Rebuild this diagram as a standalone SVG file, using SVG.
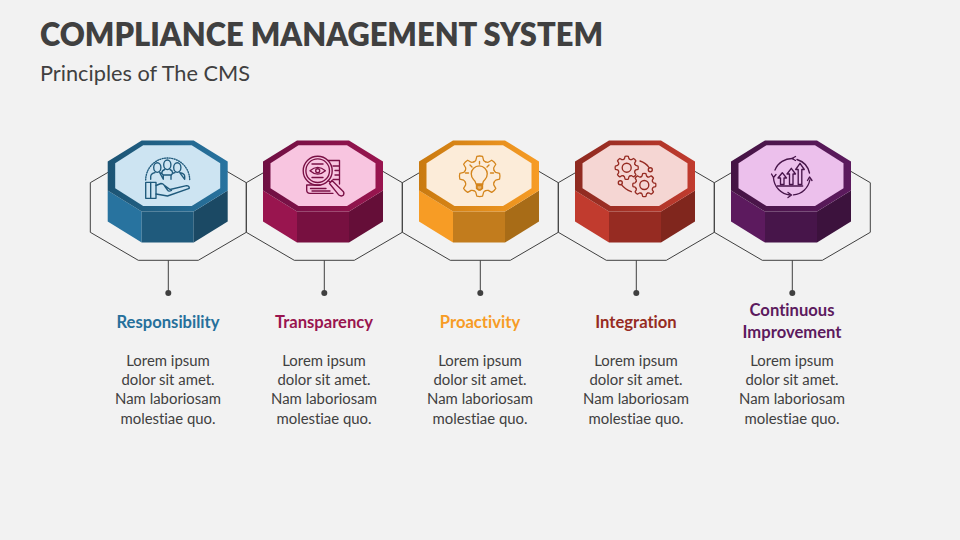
<svg xmlns="http://www.w3.org/2000/svg" width="960" height="540" viewBox="0 0 960 540">
<style>
text{font-family:"Lato","Carlito","Liberation Sans",sans-serif;fill:#404040;text-anchor:middle;font-variant-ligatures:none}
.title{font-size:32.5px;font-weight:800;text-anchor:start}
.sub{font-size:21.5px;text-anchor:start}
.lab{font-size:16.6px;font-weight:700}
.body{font-size:14.9px}
.hex{fill:none;stroke:#404040;stroke-width:1}
.stem{fill:none;stroke:#404040;stroke-width:1}
.dot{fill:#404040}
.ic{fill:none;stroke-width:1.35;stroke-linecap:round;stroke-linejoin:round}
</style>
<defs>
<linearGradient id="gb"><stop offset="0" stop-color="#1c5474"/><stop offset="1" stop-color="#28739f"/></linearGradient>
<linearGradient id="gm"><stop offset="0" stop-color="#6f0f43"/><stop offset="1" stop-color="#99154f"/></linearGradient>
<linearGradient id="go"><stop offset="0" stop-color="#c97a10"/><stop offset="1" stop-color="#f79c25"/></linearGradient>
<linearGradient id="gr"><stop offset="0" stop-color="#8e2a20"/><stop offset="1" stop-color="#c13b2e"/></linearGradient>
<linearGradient id="gp"><stop offset="0" stop-color="#451444"/><stop offset="1" stop-color="#5c1a5e"/></linearGradient>
<polygon id="rim" points="-60,-15 -26,-36 26,-36 60,-15 60,14 26,35 -26,35 -60,14"/>
<polygon id="face" points="-52.5,-13.3 -24.5,-31.3 24,-31.3 52.5,-13.3 52.5,11.7 24,29.5 -24.5,29.5 -52.5,11.7"/>
<polygon id="sl" points="-60,14 -26,35 -26,66 -60,45"/>
<polygon id="sm" points="-26,35 26,35 26,66 -26,66"/>
<polygon id="sr" points="26,35 60,14 60,45 26,66"/>
<path id="tooth" d="M-2.9 -7Q-2.2 -7.3 -1.9 -7.8L-1.4 -9.7Q0 -10.1 1.4 -9.700L1.9 -7.8Q2.2 -7.3 2.9 -7"/>
<g id="gear">
<use href="#tooth"/>
<use href="#tooth" transform="rotate(45)"/>
<use href="#tooth" transform="rotate(90)"/>
<use href="#tooth" transform="rotate(135)"/>
<use href="#tooth" transform="rotate(180)"/>
<use href="#tooth" transform="rotate(225)"/>
<use href="#tooth" transform="rotate(270)"/>
<use href="#tooth" transform="rotate(315)"/>
</g>
</defs>
<rect width="960" height="540" fill="#f2f2f2"/>
<text class="title" x="40" y="46" textLength="563" lengthAdjust="spacingAndGlyphs">COMPLIANCE MANAGEMENT SYSTEM</text>
<text class="sub" x="40" y="81" textLength="210" lengthAdjust="spacingAndGlyphs">Principles of The CMS</text>
<g id="connectors">
<polygon class="hex" points="90.3,182.7 138.3,154.7 198.3,154.7 246.3,182.7 246.3,232.3 198.3,260.3 138.3,260.3 90.3,232.3"/>
<polygon class="hex" points="246.3,182.7 294.3,154.7 354.3,154.7 402.3,182.7 402.3,232.3 354.3,260.3 294.3,260.3 246.3,232.3"/>
<polygon class="hex" points="402.3,182.7 450.3,154.7 510.3,154.7 558.3,182.7 558.3,232.3 510.3,260.3 450.3,260.3 402.3,232.3"/>
<polygon class="hex" points="558.3,182.7 606.3,154.7 666.3,154.7 714.3,182.7 714.3,232.3 666.3,260.3 606.3,260.3 558.3,232.3"/>
<polygon class="hex" points="714.3,182.7 762.3,154.7 822.3,154.7 870.3,182.7 870.3,232.3 822.3,260.3 762.3,260.3 714.3,232.3"/>
<path class="stem" d="M168.3 260.3V293M324.3 260.3V293M480.3 260.3V293M636.3 260.3V293M792.3 260.3V293"/>
<circle class="dot" cx="168.3" cy="293" r="3"/>
<circle class="dot" cx="324.3" cy="293" r="3"/>
<circle class="dot" cx="480.3" cy="293" r="3"/>
<circle class="dot" cx="636.3" cy="293" r="3"/>
<circle class="dot" cx="792.3" cy="293" r="3"/>
</g>
<g id="node-responsibility">
<g transform="translate(167.7,176.5)">
<use href="#sl" fill="#28739f"/><use href="#sm" fill="#1f5a7c"/><use href="#sr" fill="#1b4964"/>
<use href="#rim" fill="url(#gb)"/><use href="#face" fill="#cde4f2"/>
</g>
<g class="ic" stroke="#1f5a7c">
<path d="M145.700 180A22 22 0 0 1 189.700 180" stroke-dasharray="1 1.4"/>
<ellipse cx="157.300" cy="167.500" rx="3.600" ry="4.800"/><ellipse cx="167.300" cy="164.800" rx="3.600" ry="4.800"/><ellipse cx="177.300" cy="167.500" rx="3.600" ry="4.800"/>
<path d="M150.700 179.300V176.500Q151 173.500 155 172.700M159.700 172.700Q163.300 173.500 163.300 176.500V179.300ZM171 179.300V176.500Q171 173.500 175 172.700M179.700 172.700Q184.700 173.500 184.700 176.500V179.300ZM163.300 175H171M162 172.500Q162 170.500 164.700 169.500M170 169.500Q172.500 170.500 172.500 172.500"/>
<rect x="145.700" y="182.300" width="10.300" height="16"/>
<path d="M150.700 182.300V198.300M156 185.500L161 183.500Q163 183.500 164 185L170 189.500L186.500 185.700Q189.500 186 189.300 188.300L167.500 196L156 194M164 185L167.500 190Q168.500 192 171.500 190.500"/>
</g>
<text class="lab" x="168" y="327.500" style="fill:#26709b">Responsibility</text>
<text class="body" x="168" y="366">Lorem ipsum</text><text class="body" x="168" y="385">dolor sit amet.</text><text class="body" x="168" y="404">Nam laboriosam</text><text class="body" x="168" y="423.500">molestiae quo.</text>
</g>
<g id="node-transparency">
<g transform="translate(323,176.5)">
<use href="#sl" fill="#99154f"/><use href="#sm" fill="#771040"/><use href="#sr" fill="#650e38"/>
<use href="#rim" fill="url(#gm)"/><use href="#face" fill="#f8c5e0"/>
</g>
<g class="ic" stroke="#7a1045">
<circle cx="317.700" cy="170.700" r="14.500"/><circle cx="317.700" cy="170.700" r="11.800"/>
<path d="M310 170.700Q317.700 164 325.400 170.700Q317.700 177.500 310 170.700Z"/><circle cx="317.700" cy="170.700" r="2"/>
<path d="M312 164H323M312 177.500H323M328 160.500H339.500V184M333 166H338.500M335 170.500H338.500M335 175H338.500M333 179.500H338.500M306.700 185V190Q306.700 193.300 310 193.300H333M306.700 185H320M310.500 188.500H326M312 191H330"/>
<path d="M328.200 180.500L330.500 182.500M329.500 183.500L338.500 194.700Q341.500 197 343.500 195Q344.700 192.500 342.500 190.800L332 180.500Z"/>
</g>
<text class="lab" x="324" y="327.500" style="fill:#99154f">Transparency</text>
<text class="body" x="324" y="366">Lorem ipsum</text><text class="body" x="324" y="385">dolor sit amet.</text><text class="body" x="324" y="404">Nam laboriosam</text><text class="body" x="324" y="423.500">molestiae quo.</text>
</g>
<g id="node-proactivity">
<g transform="translate(479,176.5)">
<use href="#sl" fill="#f79c25"/><use href="#sm" fill="#c27c1d"/><use href="#sr" fill="#a86c17"/>
<use href="#rim" fill="url(#go)"/><use href="#face" fill="#fcecd9"/>
</g>
<g class="ic" stroke="#d4851c">
<use href="#gear" transform="translate(479.700,176.300) scale(2.050)" stroke-width=".62"/>
<path d="M476 184Q475.500 181 473.500 179.500A8 8 0 1 1 485 179.500Q483 181 482.500 184ZM476 184H483M476.500 185H482.500V188.500L480.500 190H478.500L476.500 188.500Z"/>
<path d="M477 185.500H482V188.500L479.500 189.800L477 188.500Z" fill="#d4851c" fill-opacity=".55"/>
<path d="M479.500 161.500V164M470 165L472 167M489 165L487 167M465.500 173H468.500M490.500 173H493.500"/>
</g>
<text class="lab" x="480" y="327.500" style="fill:#f79c25">Proactivity</text>
<text class="body" x="480" y="366">Lorem ipsum</text><text class="body" x="480" y="385">dolor sit amet.</text><text class="body" x="480" y="404">Nam laboriosam</text><text class="body" x="480" y="423.500">molestiae quo.</text>
</g>
<g id="node-integration">
<g transform="translate(635,176.5)">
<use href="#sl" fill="#c13b2e"/><use href="#sm" fill="#962b22"/><use href="#sr" fill="#80261d"/>
<use href="#rim" fill="url(#gr)"/><use href="#face" fill="#f5d6d3"/>
</g>
<g class="ic" stroke="#962b22">
<use href="#gear" transform="translate(626.700,167.700) scale(1.170)" stroke-width="1.100"/>
<use href="#gear" transform="translate(644.300,185) scale(1.170)" stroke-width="1.100"/>
<circle cx="626.700" cy="167.700" r="4.500"/><circle cx="644.300" cy="185" r="4.500"/>
<path d="M640 161Q646 163 649 167.500M631.300 191.700Q625 189.500 621.500 184.700"/>
<circle cx="650.300" cy="169.700" r="2"/><circle cx="620.300" cy="182.700" r="2"/>
</g>
<text class="lab" x="636" y="327.500" style="fill:#962b22">Integration</text>
<text class="body" x="636" y="366">Lorem ipsum</text><text class="body" x="636" y="385">dolor sit amet.</text><text class="body" x="636" y="404">Nam laboriosam</text><text class="body" x="636" y="423.500">molestiae quo.</text>
</g>
<g id="node-continuous-improvement">
<g transform="translate(791,176.5)">
<use href="#sl" fill="#5c1a5e"/><use href="#sm" fill="#47154a"/><use href="#sr" fill="#3c123d"/>
<use href="#rim" fill="url(#gp)"/><use href="#face" fill="#ecc0ec"/>
</g>
<g class="ic" stroke="#47154a">
<path d="M793 158.500A18.300 18.300 0 0 0 775 170M773.500 178A18.300 18.300 0 0 0 790 195M793.500 194.900A18.300 18.300 0 0 0 809.800 180M809.500 173A18.300 18.300 0 0 0 797 159.500"/>
<path d="M795.500 156.500L792 158.500L795.500 160.500M771.500 174L773.500 177.500L776 174.500M788 192.500L791.500 195L788 197.500M807.500 180.500L809.500 177L812 180.500"/>
<path d="M777.300 186H802.700"/>
<path d="M780.500 184.500V178H778L782.300 172.700L786.500 178H784V184.500ZM789.500 184.500V174H787L791.300 168.300L795.500 174H793V184.500ZM798.200 184.500V169.500H795.700L800 163.300L804.300 169.500H801.800V184.500Z"/>
</g>
<text class="lab" x="792" y="316" style="fill:#5c1a5e">Continuous</text><text class="lab" x="792" y="338" style="fill:#5c1a5e">Improvement</text>
<text class="body" x="792" y="366">Lorem ipsum</text><text class="body" x="792" y="385">dolor sit amet.</text><text class="body" x="792" y="404">Nam laboriosam</text><text class="body" x="792" y="423.500">molestiae quo.</text>
</g>
</svg>
